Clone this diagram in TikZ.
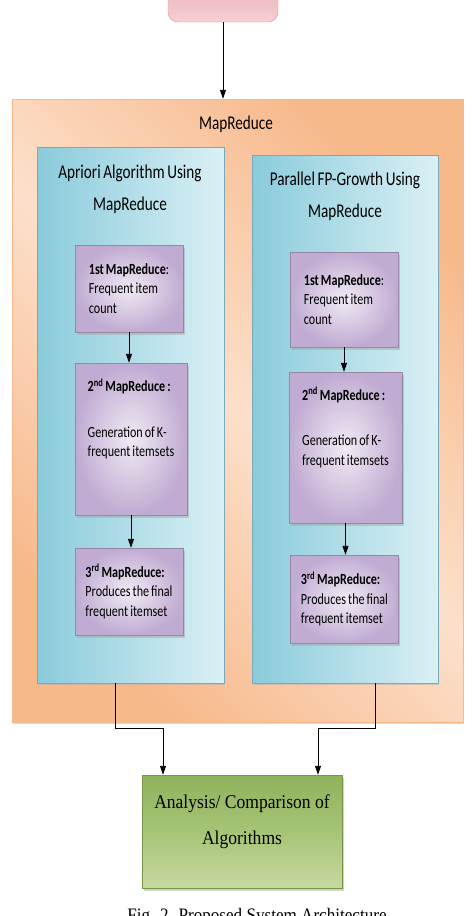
\documentclass[tikz,border=0pt]{standalone}
\usepackage{fontspec}
\setmainfont{Carlito}[FakeStretch=0.78, WordSpace=0.75]
\newfontfamily\capfont{Liberation Serif}[FakeStretch=0.9]
\usetikzlibrary{arrows.meta, shadows}

\definecolor{orlight}{RGB}{252,224,203}
\definecolor{ordark}{RGB}{247,184,138}
\definecolor{bldark}{RGB}{138,203,219}
\definecolor{bllight}{RGB}{218,240,245}
\definecolor{blline}{RGB}{120,170,186}
\definecolor{pulight}{RGB}{240,235,244}
\definecolor{pudark}{RGB}{192,171,210}
\definecolor{puline}{RGB}{150,135,165}
\definecolor{grtop}{RGB}{143,178,92}
\definecolor{grmid}{RGB}{166,196,118}
\definecolor{grbot}{RGB}{198,217,160}
\definecolor{grline}{RGB}{118,150,70}
\definecolor{pktop}{RGB}{234,168,175}
\definecolor{pkbot}{RGB}{245,208,211}
\definecolor{pkline}{RGB}{214,150,157}

\begin{document}
\begin{tikzpicture}[
    x=1pt, y=-1pt,
    dbnode/.style={rectangle, rounded corners=10pt, minimum width=110pt, minimum height=52pt, draw=pkline, top color=pktop, bottom color=pkbot},
    outerbox/.style={rectangle, minimum width=451pt, minimum height=623pt, draw=ordark, top color=ordark, bottom color=ordark, middle color=orlight, shading angle=-45, drop shadow={shadow xshift=1pt, shadow yshift=-2pt, fill=black!30}},
    algbox/.style={rectangle, draw=blline, left color=bldark, right color=bllight, drop shadow={shadow xshift=1pt, shadow yshift=-2pt, fill=black!30}},
    stepbox/.style={rectangle, draw=puline, inner color=pulight, outer color=pudark, minimum width=108pt, align=left, font=\fontsize{15.5}{19.5}\selectfont, drop shadow={shadow xshift=1.5pt, shadow yshift=-2.5pt, fill=black!35}},
    resultbox/.style={rectangle, draw=grline, top color=grtop, bottom color=grbot, middle color=grmid, minimum width=200pt, minimum height=113pt, align=center, font=\capfont\fontsize{19.5}{36}\selectfont, drop shadow={shadow xshift=1.5pt, shadow yshift=-2.5pt, fill=black!35}},
    title/.style={align=center, font=\fontsize{19.5}{32}\selectfont},
    arrow/.style={line width=0.9pt, ->, >={Triangle[length=9pt, width=6pt]}}
]
\useasboundingbox[fill=white] (0,0) rectangle (474,916);

% nodes
\node (source) [dbnode] at (223,-4) {};
\node (mapreduce) [outerbox] at (237.5,410.5) {};
\node (mrlabel) [title] at (236,124) {MapReduce};

\node (apriori) [algbox, minimum width=187pt, minimum height=536pt] at (130.5,415) {};
\node (aptitle) [title] at (130,189) {Apriori Algorithm Using\\MapReduce};
\node (pfp) [algbox, minimum width=186pt, minimum height=528pt] at (345,419) {};
\node (pftitle) [title] at (345,196) {Parallel FP-Growth Using\\MapReduce};

\node (ap1) [stepbox, minimum height=87pt] at (129,288.5) {\textbf{1st MapReduce}:\\Frequent item\\count};
\node (ap2) [stepbox, minimum width=112pt, minimum height=152pt] at (131,439) {\textbf{2\textsuperscript{nd} MapReduce :}\\[26pt]Generation of K-\\frequent itemsets\\[23pt]\mbox{}};
\node (ap3) [stepbox, minimum height=87pt] at (129,591.5) {\textbf{3\textsuperscript{rd} MapReduce:}\\Produces the final\\frequent itemset};

\node (pf1) [stepbox, minimum height=95pt] at (344,299.5) {\textbf{1st MapReduce}:\\Frequent item\\count};
\node (pf2) [stepbox, minimum width=113pt, minimum height=151pt] at (345.5,447.5) {\textbf{2\textsuperscript{nd} MapReduce :}\\[26pt]Generation of K-\\frequent itemsets\\[23pt]\mbox{}};
\node (pf3) [stepbox, minimum height=88pt] at (344.5,599) {\textbf{3\textsuperscript{rd} MapReduce:}\\Produces the final\\frequent itemset};

\node (analysis) [resultbox] at (242,831.5) {Analysis/ Comparison of\\Algorithms\\[-13pt]\mbox{}};
\node (caption) [anchor=base, font=\capfont\fontsize{19}{22}\selectfont] at (257,921) {Fig. 2. Proposed System Architecture};

% arrows
\draw [arrow] (source.south) -- (source.south |- mapreduce.north);
\draw [arrow] (ap1.south) -- (ap1.south |- ap2.north);
\draw [arrow] (ap2.south) -- (ap2.south |- ap3.north);
\draw [arrow] (pf1.south) -- (pf1.south |- pf2.north);
\draw [arrow] (pf2.south) -- (pf2.south |- pf3.north);
\draw [arrow] ([xshift=-15.5pt]apriori.south) -- ++(0,45) -| ([xshift=-79pt]analysis.north);
\draw [arrow] ([xshift=30pt]pfp.south) -- ++(0,45) -| ([xshift=76pt]analysis.north);

\end{tikzpicture}
\end{document}
